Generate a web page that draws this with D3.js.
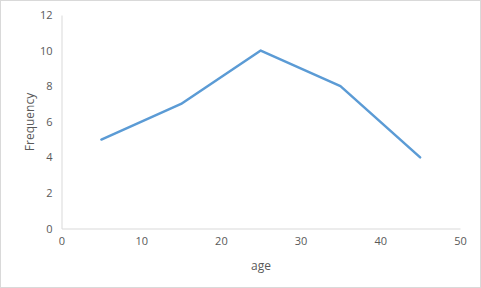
<!DOCTYPE html>
<html><head><meta charset="utf-8">
<script src="https://cdn.jsdelivr.net/npm/d3@7"></script>
<style>body{margin:0;background:#fff}svg{display:block}</style>
</head><body>
<script>
const ages = [5, 15, 25, 35, 45];
const frequency = [5, 7, 10, 8, 4];
const xTicks = [0, 10, 20, 30, 40, 50];
const yTicks = [0, 2, 4, 6, 8, 10, 12];

const W = 481, H = 288;
const svg = d3.select("body").append("svg").attr("width", W).attr("height", H);
svg.append("rect").attr("x", 0.5).attr("y", 0.5).attr("width", W - 1).attr("height", H - 1)
  .attr("fill", "#fff").attr("stroke", "#d9d9d9");

const x = d3.scaleLinear().domain([0, 50]).range([61.5, 460]);
const y = d3.scaleLinear().domain([0, 12]).range([228.5, 15]);
const font = "'Open Sans', 'Liberation Sans', sans-serif";
const tc = "#595959";

const xa = svg.append("g").attr("transform", `translate(0,${y(0)})`)
  .call(d3.axisBottom(x).tickValues(xTicks).tickSize(0).tickPadding(9));
const ya = svg.append("g").attr("transform", `translate(${x(0)},0)`)
  .call(d3.axisLeft(y).tickValues(yTicks).tickSize(0).tickPadding(9));
[xa, ya].forEach(a => {
  a.select(".domain").attr("stroke", "#d9d9d9").attr("stroke-width", 1);
  a.selectAll("text").attr("fill", tc).style("font-family", font).style("font-size", "11px");
});

const line = d3.line().x((d, i) => x(ages[i])).y(d => y(d));
svg.append("path").datum(frequency).attr("d", line).attr("fill", "none")
  .attr("stroke", "#5b9bd5").attr("stroke-width", 2.5).attr("stroke-linejoin", "round").attr("stroke-linecap", "round");

svg.append("text").attr("x", 261).attr("y", 270).attr("text-anchor", "middle")
  .attr("fill", tc).style("font-family", font).style("font-size", "12px").text("age");
svg.append("text").attr("transform", "translate(34,122) rotate(-90)").attr("text-anchor", "middle")
  .attr("fill", tc).style("font-family", font).style("font-size", "12px").text("Frequency");
</script>
</body></html>
